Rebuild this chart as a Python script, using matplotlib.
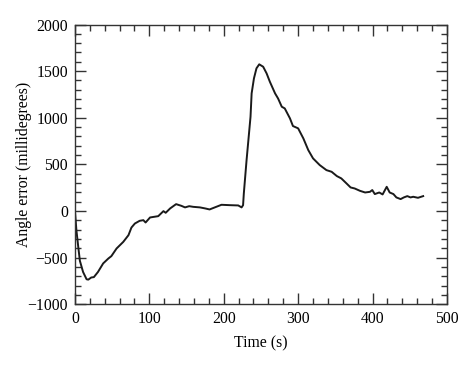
import matplotlib
matplotlib.use('Agg')
import matplotlib.pyplot as plt
from matplotlib.ticker import MultipleLocator

#values (time in s, angle error in millidegrees)
time_s = [0, 2, 4.5, 6.7, 11, 15.7, 18, 22, 25.5, 31, 38, 45, 49, 56, 65, 72, 76, 80.6,
          87, 92, 95, 101, 112, 119, 122, 128, 136, 143, 148, 153.6, 159, 168, 175, 181,
          188, 197, 208, 219.5, 224, 226, 227, 230.7, 236, 237.5, 240.6, 244, 247.7, 253,
          257.6, 262, 269, 273, 278, 282, 289, 293, 300, 307, 313.6, 320, 329, 338, 345,
          352, 358, 365, 370.5, 376, 383, 390, 396.5, 399.6, 403, 409, 413.5, 419, 423,
          428, 432, 437.7, 442, 446.7, 451, 454.6, 461, 468]
angle_err = [8, -205, -384, -535, -655, -733, -737, -714, -710, -655, -563, -510, -485,
             -403, -332, -260, -178, -135, -106, -99, -124, -70, -56, -2, -20, 27, 73, 55,
             38, 51, 44, 38, 27, 16, 38, 66, 62, 59, 38, 62, 187, 546, 1010, 1261, 1422,
             1530, 1573, 1547, 1476, 1386, 1261, 1207, 1118, 1100, 993, 911, 886, 778, 653,
             564, 492, 438, 420, 374, 349, 295, 252, 241, 216, 198, 205, 224, 181, 198,
             177, 259, 198, 181, 145, 127, 145, 159, 145, 152, 141, 159]

plt.rcParams['font.family'] = ['Liberation Serif', 'DejaVu Serif']
plt.rcParams['font.size'] = 11.3

fig = plt.figure(figsize=(4.74, 3.66), dpi=100)
ax = fig.add_axes([0.158, 0.169, 0.785, 0.764])

ax.plot(time_s, angle_err, color='#1a1a1a', lw=1.4)

ax.set_xlim(0, 500)
ax.set_ylim(-1000, 2000)
ax.xaxis.set_major_locator(MultipleLocator(100))
ax.xaxis.set_minor_locator(MultipleLocator(20))
ax.yaxis.set_major_locator(MultipleLocator(500))
ax.yaxis.set_minor_locator(MultipleLocator(100))
ax.tick_params(which='both', direction='in', top=True, right=True, color='#333333', width=1)
ax.tick_params(which='major', length=8, pad=5)
ax.tick_params(which='minor', length=4.5)
for s in ax.spines.values():
    s.set_color('#333333')
    s.set_linewidth(1)

ax.set_xlabel('Time (s)', labelpad=6)
ax.set_ylabel('Angle error (millidegrees)')
ax.yaxis.set_label_coords(-0.115, 0.5)

fig.savefig('out.png', dpi=100)
